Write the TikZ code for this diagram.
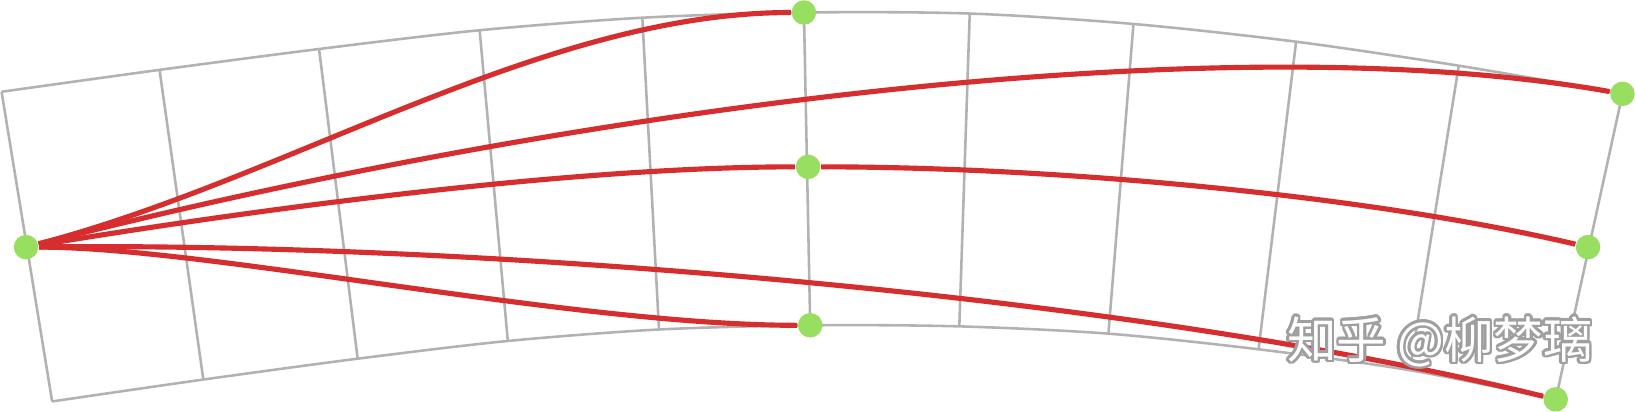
\documentclass[tikz,border=0pt]{standalone}
\usepackage{fontspec}
\usepackage{contour}
\newfontfamily\cjkfont{Noto Sans CJK SC}
\definecolor{meshgray}{RGB}{178,178,178}
\definecolor{pathred}{RGB}{214,46,46}
\definecolor{knotgreen}{RGB}{152,222,96}
\contourlength{0.7pt}

\begin{document}
\begin{tikzpicture}[x=0.01cm, y=-0.01cm,
	mesh/.style={draw=meshgray, line width=0.7pt},
	route/.style={draw=pathred, line width=1.4pt},
	knot/.style={circle, fill=knotgreen, inner sep=0pt, minimum size=0.235cm}]

	\useasboundingbox (0,0) rectangle (1568,395.1);

	\coordinate (T0) at (1.5, 88);
	\coordinate (T1) at (153, 67);
	\coordinate (T2) at (306, 47);
	\coordinate (T3) at (460, 29);
	\coordinate (T4) at (616, 17);
	\coordinate (T5) at (771, 12);
	\coordinate (T6) at (930, 13);
	\coordinate (T7) at (1087, 23);
	\coordinate (T8) at (1243, 40);
	\coordinate (T9) at (1399, 63);
	\coordinate (T10) at (1556, 90);

	\coordinate (B0) at (50, 385);
	\coordinate (B1) at (195, 364);
	\coordinate (B2) at (343, 344);
	\coordinate (B3) at (487, 327);
	\coordinate (B4) at (632, 316);
	\coordinate (B5) at (777, 312);
	\coordinate (B6) at (920, 313);
	\coordinate (B7) at (1063, 320);
	\coordinate (B8) at (1207, 335);
	\coordinate (B9) at (1352, 355);
	\coordinate (B10) at (1492, 383);

	\draw[mesh] plot[smooth, tension=0.5] coordinates {(T0) (T1) (T2) (T3) (T4) (T5) (T6) (T7) (T8) (T9) (T10)};
	\draw[mesh] plot[smooth, tension=0.5] coordinates {(B0) (B1) (B2) (B3) (B4) (B5) (B6) (B7) (B8) (B9) (B10)};
	\draw[mesh] (T0) -- (B0);
	\draw[mesh] (T1) -- (B1);
	\draw[mesh] (T2) -- (B2);
	\draw[mesh] (T3) -- (B3);
	\draw[mesh] (T4) -- (B4);
	\draw[mesh] (T5) -- (B5);
	\draw[mesh] (T6) -- (B6);
	\draw[mesh] (T7) -- (B7);
	\draw[mesh] (T8) -- (B8);
	\draw[mesh] (T9) -- (B9);
	\draw[mesh] (T10) -- (B10);

	\node[knot] (O) at (25, 237) {};
	\node[knot] (U1) at (T5) {};
	\node[knot] (U2) at (775, 160) {};
	\node[knot] (U3) at (B5) {};
	\node[knot] (E1) at (T10) {};
	\node[knot] (E2) at (1523, 237) {};
	\node[knot] (E3) at (B10) {};

	\draw[route] (O) .. controls (280, 170) and (520, 12) .. (U1);
	\draw[route] (O) .. controls (500, 115) and (1150, 18) .. (E1);
	\draw[route] (O) .. controls (250, 200) and (550, 160) .. (U2) .. controls (1000, 160) and (1300, 185) .. (E2);
	\draw[route] (O) .. controls (450, 232) and (1080, 282) .. (E3);
	\draw[route] (O) .. controls (200, 237) and (550, 312) .. (U3);

	\node[text=white, font=\cjkfont\fontsize{13.5pt}{14pt}\selectfont] (mark) at (1381, 329) {\contour{gray!75}{知乎 @柳梦璃}};
\end{tikzpicture}
\end{document}
